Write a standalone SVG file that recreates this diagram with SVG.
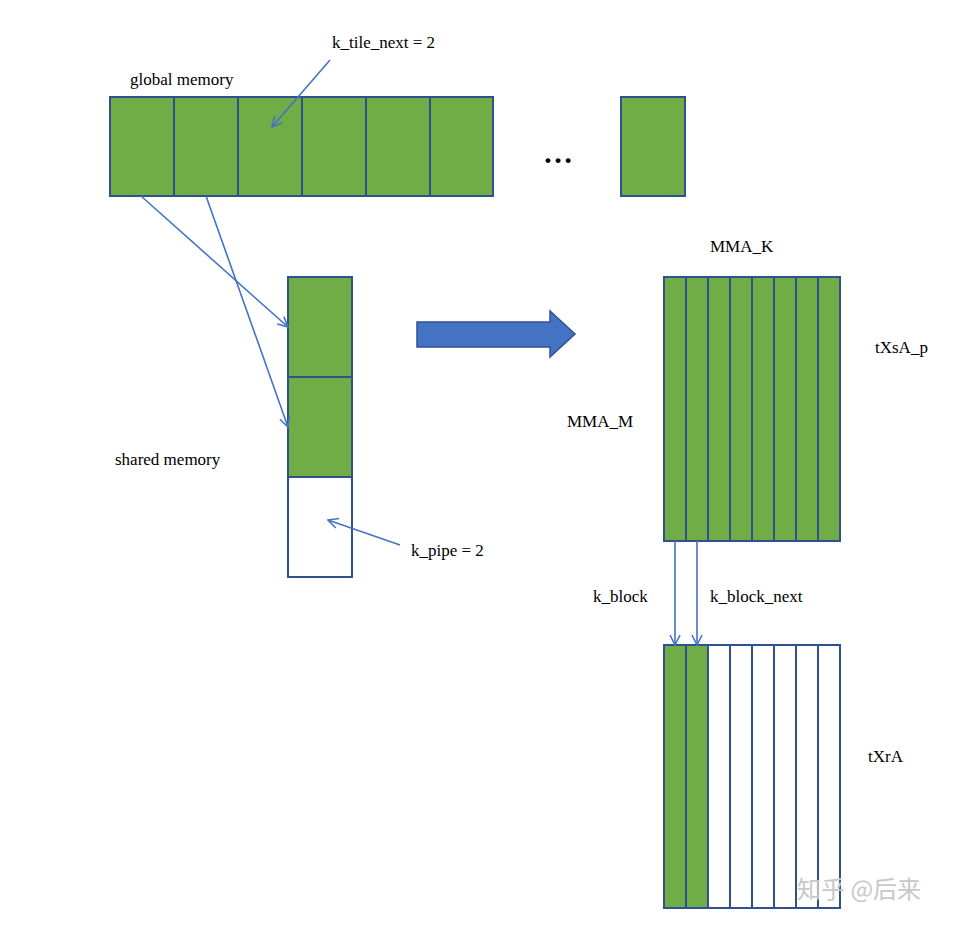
<svg xmlns="http://www.w3.org/2000/svg" width="976" height="930" viewBox="0 0 976 930">
<style>
.g{fill:#70ad47;stroke:#2f528f;stroke-width:2}
.w{fill:#fff;stroke:#2f528f;stroke-width:2}
.c{stroke:#4472c4;stroke-width:1.6;fill:none;marker-end:url(#a)}
text{font-family:"Liberation Serif",serif;font-size:17px;fill:#000}
</style>
<defs><marker id="a" viewBox="0 0 12 12" refX="11" refY="6" markerWidth="12" markerHeight="12" markerUnits="userSpaceOnUse" orient="auto"><path d="M1,1 L11,6 L1,11" fill="none" stroke="#4472c4" stroke-width="1.6"/></marker></defs>
<rect width="976" height="930" fill="#fff"/>
<g id="global">
<rect class="g" x="110" y="97" width="64" height="99"/><rect class="g" x="174" y="97" width="64" height="99"/><rect class="g" x="238" y="97" width="64" height="99"/><rect class="g" x="302" y="97" width="64" height="99"/><rect class="g" x="366" y="97" width="64" height="99"/><rect class="g" x="430" y="97" width="63" height="99"/>
<rect class="g" x="621" y="97" width="64" height="99"/>
<text x="130" y="85">global memory</text>
<text x="543" y="163" style="font-size:30px;font-weight:bold">…</text>
</g>
<g id="shared">
<rect class="g" x="288" y="277" width="64" height="100"/><rect class="g" x="288" y="377" width="64" height="100"/><rect class="w" x="288" y="477" width="64" height="100"/>
<text x="115" y="465">shared memory</text>
</g>
<g id="txsa">
<rect class="g" x="664" y="277" width="22" height="264"/><rect class="g" x="686" y="277" width="22" height="264"/><rect class="g" x="708" y="277" width="22" height="264"/><rect class="g" x="730" y="277" width="22" height="264"/><rect class="g" x="752" y="277" width="22" height="264"/><rect class="g" x="774" y="277" width="22" height="264"/><rect class="g" x="796" y="277" width="22" height="264"/><rect class="g" x="818" y="277" width="22" height="264"/>
<text x="710" y="252">MMA_K</text><text x="567" y="427">MMA_M</text><text x="875" y="353">tXsA_p</text>
</g>
<g id="txra">
<rect class="g" x="664" y="645" width="22" height="263"/><rect class="g" x="686" y="645" width="22" height="263"/><rect class="w" x="708" y="645" width="22" height="263"/><rect class="w" x="730" y="645" width="22" height="263"/><rect class="w" x="752" y="645" width="22" height="263"/><rect class="w" x="774" y="645" width="22" height="263"/><rect class="w" x="796" y="645" width="22" height="263"/><rect class="w" x="818" y="645" width="22" height="263"/>
<text x="868" y="762">tXrA</text>
</g>
<g id="bigarrow"><path d="M417,322 H550 V311 L575,334 L550,357 V347 H417 Z" fill="#4472c4" stroke="#2f528f" stroke-width="1.5"/></g>
<g id="connectors">
<line class="c" x1="141" y1="196" x2="288" y2="327"/>
<line class="c" x1="206" y1="196" x2="288" y2="427"/>
<line class="c" x1="330" y1="60" x2="272" y2="127"/>
<line class="c" x1="400" y1="545" x2="328" y2="520"/>
<line class="c" x1="675" y1="541" x2="675" y2="645"/>
<line class="c" x1="697" y1="541" x2="697" y2="645"/>
</g>
<text x="332" y="48">k_tile_next = 2</text>
<text x="411" y="556">k_pipe = 2</text>
<text x="593" y="602">k_block</text>
<text x="710" y="602">k_block_next</text>
<text x="797" y="898" style="font-family:'Noto Sans CJK SC',sans-serif;font-size:24px;fill:#c8c8c8">知乎 @后来</text>
</svg>
